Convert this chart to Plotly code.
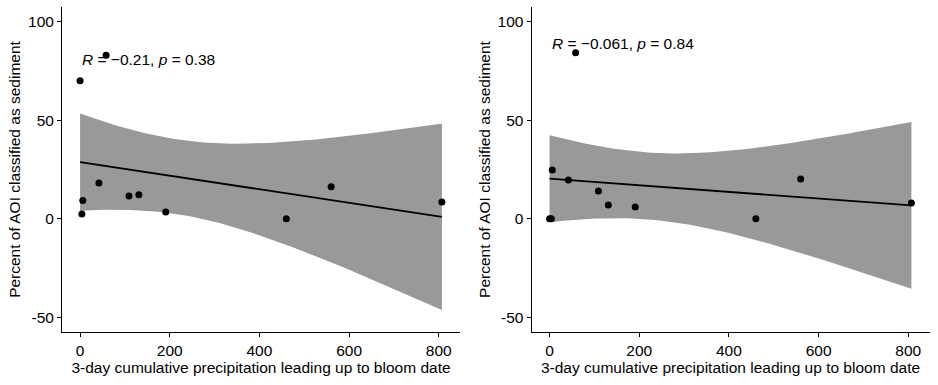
import numpy as np
import plotly.graph_objects as go
from plotly.subplots import make_subplots

# ---- data ----
precip = [0, 4, 6, 42, 58, 109, 131, 191, 460, 560, 807]
sediment_left = [70, 2.4, 9.2, 18.1, 83, 11.5, 12.2, 3.4, 0, 16.3, 8.5]
sediment_right = [0, 0, 24.8, 19.7, 84.3, 14.1, 7.0, 5.9, 0, 20.2, 8.0]
cor_labels = ["<i>R</i> = \u22120.21, <i>p</i> = 0.38",
              "<i>R</i> = \u22120.061, <i>p</i> = 0.84"]
cor_label_y = [81, 89]
x_tickvals = [0, 200, 400, 600, 800]
x_ticktext = ["0", "200", "400", "600", "800"]
y_tickvals = [-50, 0, 50, 100]
y_ticktext = ["-50", "0", "50", "100"]
x_title = "3-day cumulative precipitation leading up to bloom date"
y_title = "Percent of AOI classified as sediment"

T975 = 2.262  # t quantile (0.975, df = 9), as used by a 95% lm smoother


def lm_band(x, y, npts=80):
    x = np.asarray(x, float)
    y = np.asarray(y, float)
    n = len(x)
    b, a = np.polyfit(x, y, 1)
    resid = y - (a + b * x)
    s = np.sqrt((resid ** 2).sum() / (n - 2))
    xs = np.linspace(x.min(), x.max(), npts)
    xm = x.mean()
    sxx = ((x - xm) ** 2).sum()
    se = s * np.sqrt(1.0 / n + (xs - xm) ** 2 / sxx)
    yhat = a + b * xs
    return xs, yhat, yhat - T975 * se, yhat + T975 * se


FONT = "Liberation Sans"
FS = 15.5
fig = make_subplots(rows=1, cols=2, horizontal_spacing=0.05)

for i, ys in enumerate([sediment_left, sediment_right]):
    col = i + 1
    xs, yhat, lo, hi = lm_band(precip, ys)
    fig.add_trace(go.Scatter(
        x=np.concatenate([xs, xs[::-1]]), y=np.concatenate([hi, lo[::-1]]),
        fill="toself", fillcolor="#999999", line=dict(width=0),
        mode="lines", hoverinfo="skip", showlegend=False), row=1, col=col)
    fig.add_trace(go.Scatter(
        x=xs, y=yhat, mode="lines", line=dict(color="black", width=1.8),
        showlegend=False), row=1, col=col)
    fig.add_trace(go.Scatter(
        x=precip, y=ys, mode="markers",
        marker=dict(color="black", size=7), showlegend=False), row=1, col=col)
    xref = "x" if col == 1 else "x2"
    yref = "y" if col == 1 else "y2"
    fig.add_annotation(x=0, y=cor_label_y[i], xref=xref, yref=yref,
                       text=cor_labels[i], showarrow=False,
                       xanchor="left", yanchor="middle",
                       font=dict(family=FONT, size=FS, color="black"))

axis_common = dict(showgrid=False, zeroline=False, showline=True,
                   linecolor="black", linewidth=1, ticks="outside",
                   ticklen=4, tickcolor="black", tickwidth=1,
                   tickfont=dict(family=FONT, size=FS, color="black"),
                   mirror=False, automargin=False)

for col, dom in [(1, [62 / 938, 460 / 938]), (2, [531.5 / 938, 929.5 / 938])]:
    fig.update_xaxes(axis_common, range=[-40.35, 847.35], tickvals=x_tickvals,
                     ticktext=x_ticktext, domain=dom,
                     title=dict(text=x_title, standoff=4,
                                font=dict(family=FONT, size=FS, color="black")),
                     row=1, col=col)
    fig.update_yaxes(axis_common, range=[-57.5, 107.5], tickvals=y_tickvals,
                     ticktext=y_ticktext, domain=[0, 1],
                     title=dict(text=y_title, standoff=3,
                                font=dict(family=FONT, size=FS, color="black")),
                     row=1, col=col)

fig.update_layout(width=938, height=385, paper_bgcolor="white",
                  plot_bgcolor="white",
                  margin=dict(l=0, r=0, t=7, b=53, autoexpand=False),
                  font=dict(family=FONT, color="black"))

fig.write_html("out.html", config={"displayModeBar": False},
               post_script="document.body.style.margin='0';"
                           "document.body.style.padding='0';")
